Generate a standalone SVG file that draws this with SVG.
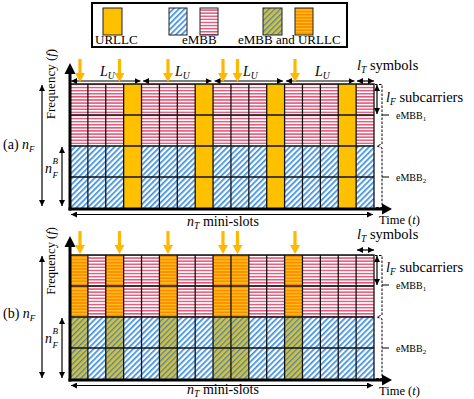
<svg xmlns="http://www.w3.org/2000/svg" width="474" height="399" viewBox="0 0 474 399">
<style>
text{font-family:"Liberation Serif","Times New Roman",serif;fill:#000}
.it{font-style:italic}
.thin{stroke:#000;stroke-width:1.2;fill:none}
.grid{stroke:#111;stroke-width:1.3;fill:none}
.axis{stroke:#000;stroke-width:3;fill:none}
.dash{stroke:#000;stroke-width:1;fill:none;stroke-dasharray:2.5 1.5}
.ur{fill:#FFC000}
</style>
<defs>
<pattern id="pk" width="6" height="3.1" patternUnits="userSpaceOnUse"><rect width="6" height="3.1" fill="#fff"/><rect width="6" height="1.5" fill="#E8587A"/></pattern>
<pattern id="bl" width="4" height="4" patternUnits="userSpaceOnUse" patternTransform="rotate(45)"><rect width="4" height="4" fill="#fff"/><rect width="1.7" height="4" fill="#3D8FE0"/></pattern>
<pattern id="gr" width="4" height="4" patternUnits="userSpaceOnUse" patternTransform="rotate(45)"><rect width="4" height="4" fill="#D2C23E"/><rect width="1.3" height="4" fill="#4F82B0"/></pattern>
<pattern id="or" width="6" height="3.1" patternUnits="userSpaceOnUse"><rect width="6" height="3.1" fill="#FF8A00"/><rect width="6" height="1.4" fill="#FFC21A"/></pattern>
<marker id="ah" markerWidth="6" markerHeight="6" refX="6" refY="3" orient="auto-start-reverse" markerUnits="userSpaceOnUse"><path d="M0,0 L6,3 L0,6 z" fill="#000"/></marker>
<path id="dn" d="M-1.6,0 H1.6 V14 H5 L0,23 L-5,14 H-1.6 z" fill="#FFB800"/>
</defs>

<g id="legend">
<rect x="92" y="3" width="255" height="44" fill="#fff" stroke="#000" stroke-width="2"/>
<rect x="103" y="8" width="19" height="27" fill="#FFC000" stroke="#222" stroke-width="1"/>
<rect x="169" y="8" width="18" height="27" fill="url(#bl)" stroke="#222" stroke-width="1"/>
<rect x="200" y="8" width="18" height="27" fill="url(#pk)" stroke="#222" stroke-width="1"/>
<rect x="263" y="8" width="19" height="27" fill="url(#gr)" stroke="#222" stroke-width="1"/>
<rect x="295" y="8" width="18" height="27" fill="url(#or)" stroke="#222" stroke-width="1"/>
<text x="95" y="44" font-size="13">URLLC</text>
<text x="182" y="44" font-size="13">eMBB</text>
<text x="238" y="44" font-size="13">eMBB and URLLC</text>
</g>

<g id="panel-a">
<rect x="70" y="84" width="304" height="62" fill="url(#pk)"/>
<rect x="70" y="146" width="304" height="62" fill="url(#bl)"/>
<g class="ur">
<rect x="123.65" y="84" width="17.88" height="124"/>
<rect x="195.18" y="84" width="17.88" height="124"/>
<rect x="266.71" y="84" width="17.88" height="124"/>
<rect x="338.24" y="84" width="17.88" height="124"/>
</g>
<path class="grid" d="M70,84 H374 V208 M70,115 H374 M70,146 H374 M70,177 H374 M87.88,84 V208 M105.76,84 V208 M123.65,84 V208 M141.53,84 V208 M159.41,84 V208 M177.29,84 V208 M195.18,84 V208 M213.06,84 V208 M230.94,84 V208 M248.82,84 V208 M266.71,84 V208 M284.59,84 V208 M302.47,84 V208 M320.35,84 V208 M338.24,84 V208 M356.12,84 V208"/>
<text x="55" y="84" font-size="13" text-anchor="middle" transform="rotate(-90 55 84)">Frequency (<tspan class="it">f</tspan>)</text>
<text x="3" y="149" font-size="14">(a) <tspan class="it">n</tspan><tspan class="it" font-size="9" dy="3">F</tspan></text>
<text x="45" y="173" font-size="14" class="it">n</text>
<text x="52.5" y="164" font-size="9" class="it">B</text>
<text x="52.5" y="178" font-size="9" class="it">F</text>
<text x="100" y="76" font-size="14"><tspan class="it">L</tspan><tspan class="it" font-size="9.5" dy="3">U</tspan></text>
<text x="175" y="76" font-size="14"><tspan class="it">L</tspan><tspan class="it" font-size="9.5" dy="3">U</tspan></text>
<text x="243" y="76" font-size="14"><tspan class="it">L</tspan><tspan class="it" font-size="9.5" dy="3">U</tspan></text>
<text x="315" y="76" font-size="14"><tspan class="it">L</tspan><tspan class="it" font-size="9.5" dy="3">U</tspan></text>
<text x="357" y="70" font-size="14.5"><tspan class="it">l</tspan><tspan class="it" font-size="9.5" dy="3">T</tspan><tspan dy="-3"> symbols</tspan></text>
<text x="386" y="102" font-size="14.5"><tspan class="it">l</tspan><tspan class="it" font-size="9.5" dy="3">F</tspan><tspan dy="-3"> subcarriers</tspan></text>
<text x="396" y="119" font-size="10">eMBB<tspan font-size="7" dy="2">1</tspan></text>
<text x="396" y="181" font-size="10">eMBB<tspan font-size="7" dy="2">2</tspan></text>
<text x="223" y="226" font-size="14" text-anchor="middle"><tspan class="it">n</tspan><tspan class="it" font-size="9.5" dy="3">T</tspan><tspan dy="-3"> mini-slots</tspan></text>
<text x="379" y="224" font-size="12.5">Time (<tspan class="it">t</tspan>)</text>
</g>

<g id="panel-b">
<rect x="70" y="255" width="304" height="62" fill="url(#pk)"/>
<rect x="70" y="317" width="304" height="62" fill="url(#bl)"/>
<g fill="url(#or)">
<rect x="70" y="255" width="17.88" height="62"/>
<rect x="105.76" y="255" width="17.88" height="62"/>
<rect x="159.41" y="255" width="17.88" height="62"/>
<rect x="213.06" y="255" width="35.76" height="62"/>
<rect x="284.59" y="255" width="17.88" height="62"/>
</g>
<g fill="url(#gr)">
<rect x="70" y="317" width="17.88" height="62"/>
<rect x="105.76" y="317" width="17.88" height="62"/>
<rect x="159.41" y="317" width="17.88" height="62"/>
<rect x="213.06" y="317" width="35.76" height="62"/>
<rect x="284.59" y="317" width="17.88" height="62"/>
</g>
<path class="grid" d="M70,255 H374 V379 M70,286 H374 M70,317 H374 M70,348 H374 M87.88,255 V379 M105.76,255 V379 M123.65,255 V379 M141.53,255 V379 M159.41,255 V379 M177.29,255 V379 M195.18,255 V379 M213.06,255 V379 M230.94,255 V379 M248.82,255 V379 M266.71,255 V379 M284.59,255 V379 M302.47,255 V379 M320.35,255 V379 M338.24,255 V379 M356.12,255 V379"/>
<text x="55" y="261" font-size="12.5" text-anchor="middle" transform="rotate(-90 55 261)">Frequency (<tspan class="it">f</tspan>)</text>
<text x="3" y="318" font-size="14">(b) <tspan class="it">n</tspan><tspan class="it" font-size="9" dy="3">F</tspan></text>
<text x="45" y="343" font-size="14" class="it">n</text>
<text x="52.5" y="334" font-size="9" class="it">B</text>
<text x="52.5" y="348" font-size="9" class="it">F</text>
<text x="357" y="239" font-size="14.5"><tspan class="it">l</tspan><tspan class="it" font-size="9.5" dy="3">T</tspan><tspan dy="-3"> symbols</tspan></text>
<text x="386" y="272" font-size="14.5"><tspan class="it">l</tspan><tspan class="it" font-size="9.5" dy="3">F</tspan><tspan dy="-3"> subcarriers</tspan></text>
<text x="396" y="289" font-size="10">eMBB<tspan font-size="7" dy="2">1</tspan></text>
<text x="396" y="352" font-size="10">eMBB<tspan font-size="7" dy="2">2</tspan></text>
<text x="223" y="394" font-size="14" text-anchor="middle"><tspan class="it">n</tspan><tspan class="it" font-size="9.5" dy="2.5">T</tspan><tspan dy="-2.5"> mini-slots</tspan></text>
<text x="379" y="395" font-size="12.5">Time (<tspan class="it">t</tspan>)</text>
</g>

<g id="connectors">
<path class="axis" d="M70,210.5 V72"/>
<path d="M70,63 L75.5,74 H64.5 z"/>
<path class="axis" d="M68.5,209 H384"/>
<path d="M392,209 L382,203.5 V214.5 z"/>
<path class="thin" marker-start="url(#ah)" marker-end="url(#ah)" d="M71,81 H140.5"/>
<path class="thin" marker-start="url(#ah)" marker-end="url(#ah)" d="M143,81 H211.5"/>
<path class="thin" marker-start="url(#ah)" marker-end="url(#ah)" d="M214.5,81 H283"/>
<path class="thin" marker-start="url(#ah)" marker-end="url(#ah)" d="M286,81 H354.5"/>
<path class="thin" marker-start="url(#ah)" marker-end="url(#ah)" d="M357,81 H374"/>
<path class="thin" marker-start="url(#ah)" marker-end="url(#ah)" d="M377,85 V114"/>
<path class="thin" marker-start="url(#ah)" marker-end="url(#ah)" d="M42,85 V206"/>
<path class="thin" marker-start="url(#ah)" marker-end="url(#ah)" d="M62,147 V206"/>
<path class="thin" marker-start="url(#ah)" marker-end="url(#ah)" d="M71,214.5 H373"/>
<path class="dash" d="M375,84.5 H382 V144 L377,146 L382,148 V207.5 H376"/>
<path class="thin" stroke-width="0.9" d="M382,115 H389 M382,177 H389"/>
<use href="#dn" x="80" y="59"/>
<use href="#dn" x="119.5" y="59"/>
<use href="#dn" x="168" y="59"/>
<use href="#dn" x="223" y="59"/>
<use href="#dn" x="237.5" y="59"/>
<use href="#dn" x="295" y="59"/>

<path class="axis" d="M70,381.5 V245"/>
<path d="M70,236 L75.5,247 H64.5 z"/>
<path class="axis" d="M68.5,380 H384"/>
<path d="M392,380 L382,374.5 V385.5 z"/>
<path class="thin" marker-start="url(#ah)" marker-end="url(#ah)" d="M357,250 H374"/>
<path class="thin" marker-start="url(#ah)" marker-end="url(#ah)" d="M377,256 V285"/>
<path class="thin" marker-start="url(#ah)" marker-end="url(#ah)" d="M42,256 V378"/>
<path class="thin" marker-start="url(#ah)" marker-end="url(#ah)" d="M62,318 V378"/>
<path class="thin" marker-start="url(#ah)" marker-end="url(#ah)" d="M71,385.5 H373"/>
<path class="dash" d="M375,255.5 H382 V315 L377,317 L382,319 V378.5 H376"/>
<path class="thin" stroke-width="0.9" d="M382,285 H389 M382,348 H389"/>
<use href="#dn" x="80" y="231"/>
<use href="#dn" x="119.5" y="231"/>
<use href="#dn" x="168" y="231"/>
<use href="#dn" x="223" y="231"/>
<use href="#dn" x="237.5" y="231"/>
<use href="#dn" x="295" y="231"/>
</g>
</svg>
